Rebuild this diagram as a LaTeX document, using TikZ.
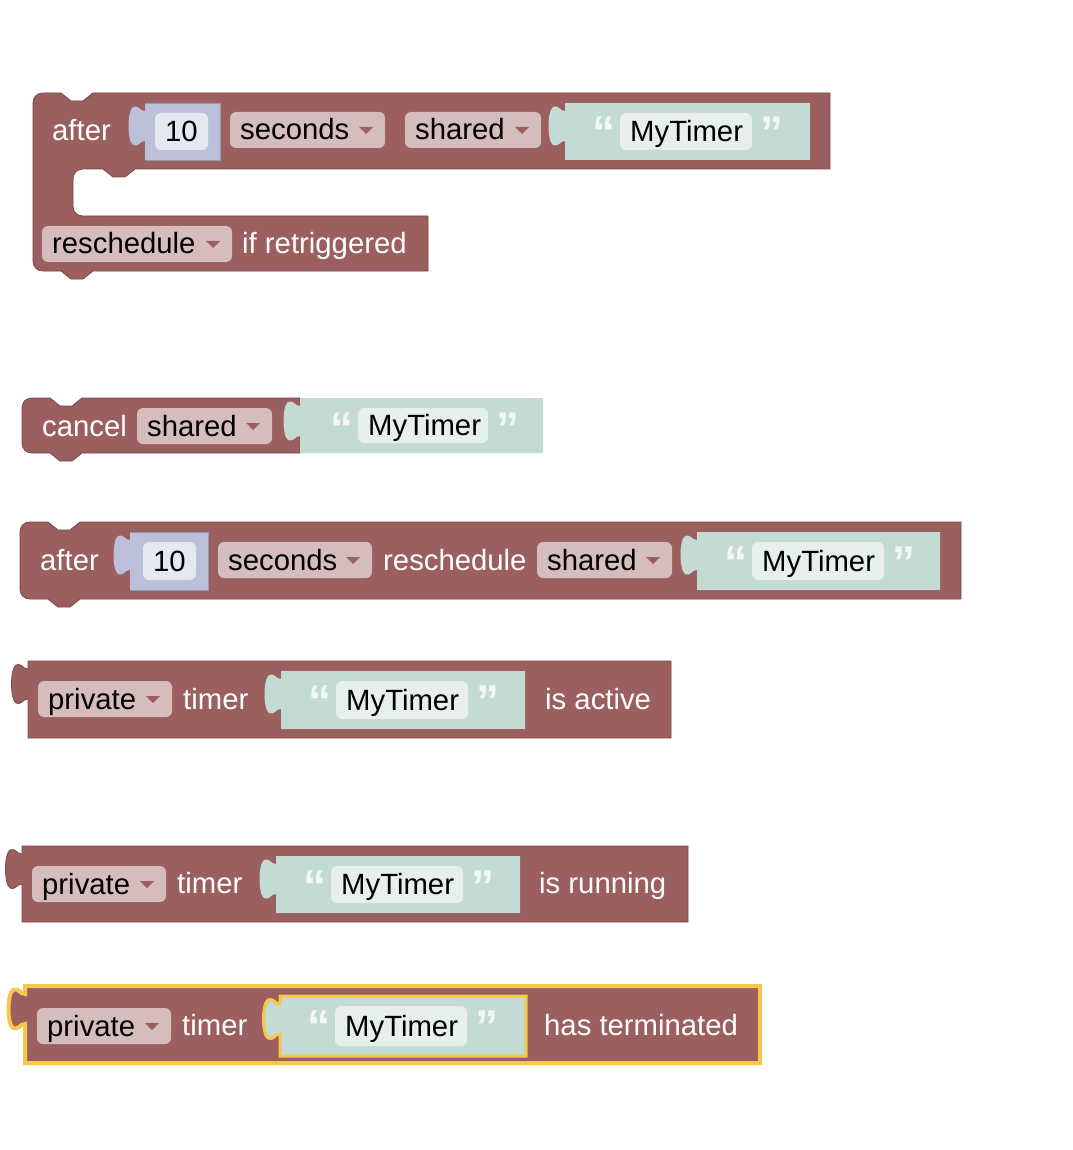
\documentclass[tikz,border=0pt]{standalone}
\usepackage{fontspec}
\setmainfont{Liberation Sans}
\definecolor{blk}{HTML}{9A5F5E}
\definecolor{blkd}{HTML}{7A4948}
\definecolor{ddc}{HTML}{D6BDBD}
\definecolor{numc}{HTML}{BBC0D8}
\definecolor{numf}{HTML}{E5E8F1}
\definecolor{txtc}{HTML}{C3DBD2}
\definecolor{txtf}{HTML}{E6EFEB}
\definecolor{quo}{HTML}{F2F7F5}
\definecolor{sel}{HTML}{F5C84C}
\tikzset{
  lbl/.style={anchor=base west, inner sep=0pt, font=\fontsize{29.3}{32}\selectfont},
  wlbl/.style={lbl, text=white},
  qlbl/.style={anchor=base west, inner sep=0pt, text=quo, font=\fontsize{46}{48}\selectfont\bfseries},
}
% statement block path
\newcommand{\stmtpath}[4]{(#1,{#2+10}) .. controls (#1,{#2+4}) and ({#1+4},#2) .. ({#1+10},#2) -- ({#1+28},#2) -- ({#1+38},{#2+8}) -- ({#1+50},{#2+8}) -- ({#1+60},#2) -- (#3,#2) -- (#3,#4) -- ({#1+60},#4) -- ({#1+50},{#4+8}) -- ({#1+38},{#4+8}) -- ({#1+28},#4) -- ({#1+10},#4) .. controls ({#1+4},#4) and (#1,{#4-4}) .. (#1,{#4-10}) -- cycle}
% value block path with left tab
\newcommand{\valpath}[4]{(#1,#2) -- (#3,#2) -- (#3,#4) -- (#1,#4) -- (#1,{#2+38}) .. controls ({#1-6},{#2+38}) and ({#1-5},{#2+44}) .. ({#1-12},{#2+42}) .. controls ({#1-18},{#2+38}) and ({#1-18},{#2+8}) .. ({#1-12},{#2+4}) .. controls ({#1-5},{#2+2}) and ({#1-6},{#2+8}) .. (#1,{#2+8}) -- cycle}
% dropdown: name x1 y1 x2 y2 text
\newcommand{\dd}[6]{\fill[ddc,rounded corners=6] (#2,#3) rectangle (#4,#5);
  \node[lbl] (#1) at ({#2+10},{(#3+#5)/2+10}) {#6};
  \fill[blk] ({#4-26},{(#3+#5)/2-3}) -- ({#4-12},{(#3+#5)/2-3}) -- ({#4-19},{(#3+#5)/2+4}) -- cycle;}
% number block: name x1 y1 x2 y2 fx1 fx2
\newcommand{\numb}[7]{\fill[numc] \valpath{#2}{#3}{#4}{#5};
  \draw[numc!80!black,line width=0.6] (#2,#3) -- (#4,#3) -- (#4,#5) -- (#2,#5);
  \fill[numf,rounded corners=6] (#6,{#3+10}) rectangle (#7,{#5-10});
  \node[lbl,anchor=base] (#1) at ({(#6+#7)/2},{(#3+#5)/2+10}) {10};}
% text block: name x1 y1 x2 y2 fx1 fx2
\newcommand{\txtb}[7]{\fill[txtc] \valpath{#2}{#3}{#4}{#5};
  \fill[txtf,rounded corners=6] (#6,{#3+10}) rectangle (#7,{#5-10});
  \node[qlbl] at ({#6-28},{#3+46}) {“};
  \node[qlbl] at ({#7+8},{#3+46}) {”};
  \node[lbl] (#1) at ({#6+10},{(#3+#5)/2+10}) {MyTimer};}
\begin{document}
\begin{tikzpicture}[x=1pt,y=-1pt]
\useasboundingbox (0,0) rectangle (1072,1150);
\fill[white] (0,0) rectangle (1072,1150);

% ---------- Block 1
\fill[blk,draw=blkd,line width=0.8] (33,103) .. controls (33,97) and (37,93) .. (43,93) -- (61,93) -- (71,101) -- (83,101) -- (93,93) -- (830,93) -- (830,169) -- (135,169) -- (125,177) -- (113,177) -- (103,169) -- (83,169) .. controls (77,169) and (73,173) .. (73,179) -- (73,206) .. controls (73,212) and (77,216) .. (83,216) -- (428,216) -- (428,271) -- (93,271) -- (83,279) -- (71,279) -- (61,271) -- (43,271) .. controls (37,271) and (33,267) .. (33,261) -- cycle;
\node[wlbl] (a1) at (52,141) {after};
\numb{n1}{145}{103}{220}{160}{155}{208}
\dd{s1}{230}{112}{385}{148}{seconds}
\dd{sh1}{405}{112}{541}{148}{shared}
\txtb{t1}{565}{103}{810}{160}{620}{752}
\dd{r1}{42}{226}{232}{262}{reschedule}
\node[wlbl] (ir1) at (242,254) {if retriggered};

% ---------- Block 2
\fill[blk,draw=blkd,line width=0.8] \stmtpath{22}{398}{300}{453};
\node[wlbl] (c2) at (42,436) {cancel};
\dd{sh2}{137}{408}{272}{444}{shared}
\txtb{t2}{300}{398}{543}{453}{358}{488}

% ---------- Block 3
\fill[blk,draw=blkd,line width=0.8] \stmtpath{20}{522}{961}{599};
\node[wlbl] (a3) at (40,570) {after};
\numb{n3}{130}{532}{208}{590}{143}{196}
\dd{s3}{218}{542}{372}{578}{seconds}
\node[wlbl] (r3) at (383,570) {reschedule};
\dd{sh3}{537}{542}{672}{578}{shared}
\txtb{t3}{697}{532}{940}{590}{752}{884}

% ---------- Block 4
\fill[blk,draw=blkd,line width=0.8] \valpath{28}{661}{671}{738};
\dd{p4}{38}{681}{172}{717}{private}
\node[wlbl] (tm4) at (183,709) {timer};
\txtb{t4}{281}{671}{525}{729}{336}{468}
\node[wlbl] (ia4) at (545,709) {is active};

% ---------- Block 5
\fill[blk,draw=blkd,line width=0.8] \valpath{22}{846}{688}{922};
\dd{p5}{32}{866}{166}{902}{private}
\node[wlbl] (tm5) at (177,893) {timer};
\txtb{t5}{276}{856}{520}{913}{331}{463}
\node[wlbl] (ir5) at (539,893) {is running};

% ---------- Block 6 (selected)
\fill[blk] \valpath{25}{986}{760}{1063};
\dd{p6}{37}{1008}{171}{1044}{private}
\node[wlbl] (tm6) at (182,1035) {timer};
\txtb{t6}{280}{996}{526}{1056}{335}{467}
\draw[sel,line width=3] \valpath{280}{996}{526}{1056};
\node[wlbl] (ht6) at (544,1035) {has terminated};
\draw[sel,line width=4] \valpath{25}{986}{760}{1063};
\end{tikzpicture}
\end{document}
